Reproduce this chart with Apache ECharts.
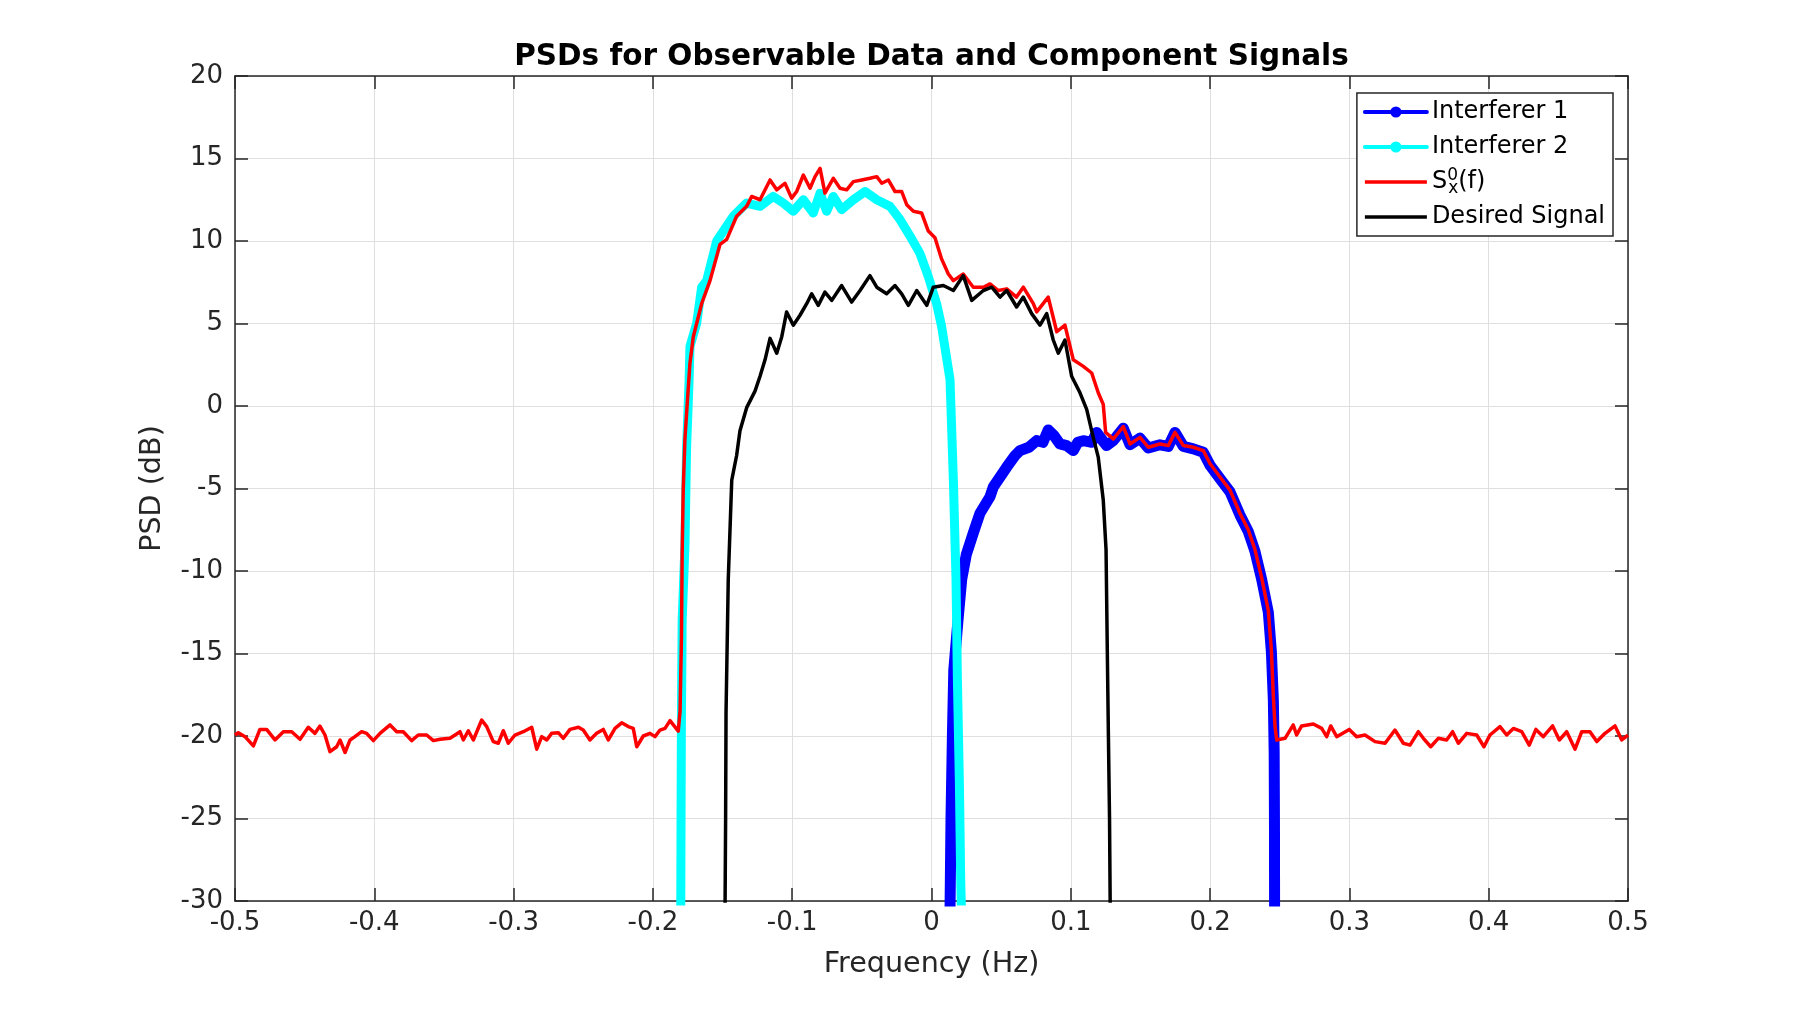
<!DOCTYPE html>
<html>
<head>
<meta charset="utf-8">
<title>PSDs for Observable Data and Component Signals</title>
<script src="https://cdn.jsdelivr.net/npm/echarts@6/dist/echarts.min.js"></script>
<style>
  html, body { margin: 0; padding: 0; background: #fff; }
  #chart { width: 1800px; height: 1013px; }
</style>
</head>
<body>
<div id="chart"></div>
<script>
// values (frequency in Hz, PSD in dB)

// Interferer 1
const int1Freq = [0.0133, 0.0140, 0.0150, 0.0160, 0.0190, 0.0217, 0.0250, 0.0300, 0.0348, 0.0420,
  0.0444, 0.0500, 0.0540, 0.0600, 0.0635, 0.0700, 0.0755, 0.0800, 0.0838, 0.0880,
  0.0922, 0.0970, 0.1018, 0.1050, 0.1090, 0.1150, 0.1186, 0.1220, 0.1257, 0.1305,
  0.1377, 0.1425, 0.1497, 0.1556, 0.1640, 0.1700, 0.1748, 0.1808, 0.1880, 0.1951,
  0.2000, 0.2071, 0.2143, 0.2214, 0.2274, 0.2322, 0.2370, 0.2418, 0.2440, 0.2454,
  0.2460, 0.2462, 0.2463];
const int1Psd = [-30.5, -25, -20, -16, -13, -10.5, -9.0, -7.7, -6.5, -5.5,
  -4.9, -4.2, -3.7, -3.0, -2.7, -2.5, -2.1, -2.2, -1.45, -1.8,
  -2.3, -2.4, -2.7, -2.2, -2.1, -2.2, -1.6, -2.0, -2.4, -2.1,
  -1.35, -2.35, -1.95, -2.55, -2.35, -2.45, -1.6, -2.45, -2.6, -2.8,
  -3.6, -4.4, -5.2, -6.6, -7.6, -8.8, -10.5, -12.5, -14.9, -17.8,
  -21, -25, -30.5];

// Interferer 2
const int2Freq = [-0.1800, -0.1798, -0.1795, -0.1790, -0.1770, -0.1758, -0.1740, -0.1734, -0.1686, -0.1650,
  -0.1614, -0.1542, -0.1530, -0.1423, -0.1327, -0.1231, -0.1136, -0.1064, -0.0992, -0.0920,
  -0.0849, -0.0800, -0.0753, -0.0705, -0.0645, -0.0561, -0.0477, -0.0393, -0.0298, -0.0226,
  -0.0154, -0.0083, -0.0023, 0.0037, 0.0073, 0.0133, 0.0157, 0.0176, 0.0186, 0.0200,
  0.0210, 0.0215];
const int2Psd = [-30.5, -25, -18.6, -13, -8.5, -2.5, 1.6, 3.6, 5.0, 7.2,
  7.6, 10.0, 9.9, 11.5, 12.3, 12.1, 12.7, 12.3, 11.8, 12.5,
  11.7, 12.9, 11.8, 12.7, 11.9, 12.5, 13.0, 12.5, 12.1, 11.3,
  10.3, 9.25, 7.85, 6.2, 4.8, 1.6, -4.5, -10.5, -16.6, -22.7,
  -28.9, -30.5];

// S_x^0(f), observable data
const sxFreq = [-0.5, -0.4976, -0.4928, -0.4868, -0.4821, -0.4773, -0.4713, -0.4653, -0.4593, -0.4533,
  -0.4474, -0.4426, -0.4390, -0.4354, -0.4318, -0.4270, -0.4246, -0.4210, -0.4174, -0.4139,
  -0.4091, -0.4055, -0.4007, -0.3959, -0.3887, -0.3839, -0.3792, -0.3732, -0.3684, -0.3624,
  -0.3576, -0.3528, -0.3457, -0.3409, -0.3385, -0.3361, -0.3325, -0.3289, -0.3229, -0.3193,
  -0.3146, -0.3110, -0.3074, -0.3038, -0.2990, -0.2930, -0.2870, -0.2834, -0.2798, -0.2762,
  -0.2727, -0.2679, -0.2643, -0.2595, -0.2535, -0.2500, -0.2452, -0.2404, -0.2356, -0.2320,
  -0.2272, -0.2224, -0.2177, -0.2141, -0.2116, -0.2069, -0.2021, -0.1985, -0.1949, -0.1913,
  -0.1877, -0.1818, -0.1805, -0.1795, -0.1790, -0.1782, -0.1770, -0.1750, -0.1734, -0.1710,
  -0.1650, -0.1590, -0.1518, -0.1470, -0.1399, -0.1327, -0.1291, -0.1231, -0.1159, -0.1111,
  -0.1052, -0.1004, -0.0968, -0.0920, -0.0872, -0.0836, -0.0800, -0.0765, -0.0705, -0.0657,
  -0.0609, -0.0561, -0.0501, -0.0442, -0.0393, -0.0357, -0.0310, -0.0262, -0.0214, -0.0178,
  -0.0130, -0.0071, -0.0023, 0.0025, 0.0073, 0.0121, 0.0157, 0.0228, 0.0300, 0.0372,
  0.0420, 0.0480, 0.0540, 0.0610, 0.0659, 0.0731, 0.0755, 0.0838, 0.0899, 0.0958,
  0.1018, 0.1090, 0.1150, 0.1197, 0.1233, 0.1250, 0.1305, 0.1377, 0.1425, 0.1497,
  0.1556, 0.1640, 0.1700, 0.1748, 0.1808, 0.1880, 0.1951, 0.2000, 0.2071, 0.2143,
  0.2214, 0.2274, 0.2322, 0.2370, 0.2418, 0.2440, 0.2454, 0.2466, 0.2478, 0.2538,
  0.2597, 0.2621, 0.2657, 0.2741, 0.2801, 0.2837, 0.2866, 0.2909, 0.2999, 0.3052,
  0.3112, 0.3184, 0.3256, 0.3327, 0.3387, 0.3435, 0.3495, 0.3531, 0.3584, 0.3638,
  0.3698, 0.3741, 0.3782, 0.3842, 0.3914, 0.3966, 0.4009, 0.4081, 0.4129, 0.4177,
  0.4237, 0.4291, 0.4339, 0.4392, 0.4459, 0.4507, 0.4560, 0.4620, 0.4668, 0.4727,
  0.4776, 0.4835, 0.4907, 0.4955, 0.5];
const sxPsd = [-19.94, -19.8, -20.04, -20.6, -19.6, -19.6, -20.24, -19.74, -19.74, -20.2,
  -19.47, -19.84, -19.4, -19.94, -20.95, -20.65, -20.24, -21.0, -20.24, -20.04,
  -19.74, -19.84, -20.28, -19.84, -19.33, -19.74, -19.74, -20.28, -19.94, -19.94,
  -20.28, -20.2, -20.14, -19.88, -19.74, -20.24, -19.68, -20.24, -19.03, -19.43,
  -20.34, -20.44, -19.68, -20.44, -19.94, -19.74, -19.47, -20.8, -20.04, -20.24,
  -19.84, -19.8, -20.14, -19.6, -19.47, -19.64, -20.24, -19.84, -19.6, -20.24,
  -19.54, -19.2, -19.43, -19.54, -20.65, -20.0, -19.84, -20.04, -19.64, -19.54,
  -19.07, -19.7, -18.5, -14.0, -9.0, -5.0, -2.0, 0.6, 2.6, 4.2,
  6.2, 7.6, 9.8, 10.1, 11.5, 12.1, 12.7, 12.5, 13.7, 13.1,
  13.5, 12.6, 13.0, 14.0, 13.2, 13.9, 14.4, 12.9, 13.8, 13.2,
  13.1, 13.6, 13.7, 13.8, 13.9, 13.5, 13.7, 13.0, 13.0, 12.2,
  11.8, 11.7, 10.6, 10.2, 8.9, 8.0, 7.6, 8.0, 7.2, 7.2,
  7.4, 7.0, 7.1, 6.6, 7.2, 6.2, 5.7, 6.6, 4.5, 4.9,
  2.8, 2.4, 2.0, 0.8, 0.1, -1.6, -2.0, -1.25, -2.3, -1.9,
  -2.5, -2.3, -2.4, -1.6, -2.4, -2.5, -2.7, -3.5, -4.3, -5.1,
  -6.5, -7.5, -8.7, -10.4, -12.4, -14.8, -17.6, -19.4, -20.24, -20.14,
  -19.33, -19.94, -19.39, -19.27, -19.54, -20.04, -19.39, -20.04, -19.6, -20.04,
  -19.94, -20.34, -20.44, -19.64, -20.44, -20.55, -19.74, -20.14, -20.65, -20.14,
  -20.24, -19.74, -20.44, -19.84, -19.94, -20.65, -19.94, -19.43, -19.94, -19.54,
  -19.74, -20.55, -19.6, -20.04, -19.39, -20.24, -19.74, -20.8, -19.74, -19.74,
  -20.34, -19.84, -19.39, -20.24, -19.94];

// Desired signal
const desiredFreq = [-0.1482, -0.1478, -0.1475, -0.1459, -0.1434, -0.1399, -0.1375, -0.1327, -0.1267, -0.1231,
  -0.1195, -0.1159, -0.1111, -0.1075, -0.1040, -0.0992, -0.0944, -0.0896, -0.0860, -0.0813,
  -0.0765, -0.0716, -0.0645, -0.0573, -0.0513, -0.0442, -0.0393, -0.0322, -0.0262, -0.0214,
  -0.0166, -0.0106, -0.0034, 0.0013, 0.0085, 0.0157, 0.0228, 0.0289, 0.0372, 0.0432,
  0.0492, 0.0540, 0.0611, 0.0659, 0.0719, 0.0779, 0.0827, 0.0874, 0.0910, 0.0958,
  0.1006, 0.1066, 0.1114, 0.1161, 0.1197, 0.1233, 0.1253, 0.1262, 0.1270, 0.1278,
  0.1283];
const desiredPsd = [-30.5, -25, -18.6, -10.5, -4.5, -3.0, -1.5, -0.1, 0.9, 1.8,
  2.8, 4.1, 3.2, 4.2, 5.7, 4.9, 5.5, 6.2, 6.8, 6.1,
  6.9, 6.4, 7.3, 6.3, 7.0, 7.9, 7.2, 6.8, 7.3, 6.8,
  6.1, 7.0, 6.1, 7.2, 7.3, 7.0, 7.9, 6.4, 7.0, 7.2,
  6.6, 7.0, 6.0, 6.6, 5.6, 4.9, 5.6, 4.0, 3.2, 4.0,
  1.8, 0.8, -0.2, -1.9, -3.1, -5.7, -8.7, -14.8, -20, -25,
  -30.5];

const zip = (xs, ys) => xs.map((x, i) => [x, ys[i]]);

const chart = echarts.init(document.getElementById('chart'));

const FONT = 'DejaVu Sans';
const INK = '#262626';

const option = {
  backgroundColor: '#fff',
  animation: false,
  textStyle: { fontFamily: FONT, color: INK },
  title: {
    text: 'PSDs for Observable Data and Component Signals',
    left: 926.5,
    textAlign: 'center',
    top: 37,
    textStyle: { fontFamily: FONT, fontSize: 29.5, fontWeight: 'bold', color: '#000' }
  },
  grid: { left: 235, right: 172, top: 76, bottom: 112, containLabel: false },
  legend: {
    orient: 'vertical',
    right: 187,
    top: 93,
    align: 'left',
    padding: [4, 8, 4, 6],
    itemWidth: 62,
    itemHeight: 14,
    itemGap: 5,
    backgroundColor: '#fff',
    borderColor: INK,
    borderWidth: 1.5,
    borderRadius: 0,
    textStyle: {
      fontFamily: FONT,
      fontSize: 24,
      lineHeight: 30,
      color: '#000',
      rich: {
        s: { fontFamily: FONT, fontSize: 24, color: '#000' },
        sup: { fontFamily: FONT, fontSize: 17, color: '#000', verticalAlign: 'top', padding: [0, 0, 16, 0], width: 1 },
        sub: { fontFamily: FONT, fontSize: 17, color: '#000', verticalAlign: 'bottom', padding: [16, 0, 0, 0] }
      }
    },
    formatter: name => name === 'Sx0'
      ? '{s|S}{sup|0}{sub|x}{s|(f)}'
      : name,
    data: [
      { name: 'Interferer 1', lineStyle: { width: 4 } },
      { name: 'Interferer 2', lineStyle: { width: 4 } },
      { name: 'Sx0', lineStyle: { width: 3.5 }, itemStyle: { opacity: 0 } },
      { name: 'Desired Signal', lineStyle: { width: 3.5 }, itemStyle: { opacity: 0 } }
    ]
  },
  xAxis: [
    {
      type: 'value',
      min: -0.5,
      max: 0.5,
      interval: 0.1,
      name: 'Frequency (Hz)',
      nameLocation: 'middle',
      nameGap: 49,
      nameTextStyle: { fontFamily: FONT, fontSize: 28.6, color: INK },
      axisLine: { show: true, onZero: false, lineStyle: { color: INK, width: 1.5 } },
      axisTick: { show: true, inside: true, length: 13, lineStyle: { color: INK, width: 1.5 } },
      axisLabel: {
        fontFamily: FONT, fontSize: 26, color: INK, margin: 9,
        formatter: v => String(+v.toFixed(1))
      },
      splitLine: { show: true, lineStyle: { color: '#dfdfdf', width: 1 } }
    },
    {
      type: 'value',
      position: 'top',
      min: -0.5,
      max: 0.5,
      interval: 0.1,
      axisLine: { show: true, onZero: false, lineStyle: { color: INK, width: 1.5 } },
      axisTick: { show: true, inside: true, length: 13, lineStyle: { color: INK, width: 1.5 } },
      axisLabel: { show: false },
      splitLine: { show: false }
    }
  ],
  yAxis: [
    {
      type: 'value',
      min: -30,
      max: 20,
      interval: 5,
      name: 'PSD (dB)',
      nameLocation: 'middle',
      nameGap: 68,
      nameTextStyle: { fontFamily: FONT, fontSize: 28.6, color: INK },
      axisLine: { show: true, onZero: false, lineStyle: { color: INK, width: 1.5 } },
      axisTick: { show: true, inside: true, length: 13, lineStyle: { color: INK, width: 1.5 } },
      axisLabel: { fontFamily: FONT, fontSize: 26, color: INK, margin: 12 },
      splitLine: { show: true, lineStyle: { color: '#dfdfdf', width: 1 } }
    },
    {
      type: 'value',
      position: 'right',
      min: -30,
      max: 20,
      interval: 5,
      axisLine: { show: true, onZero: false, lineStyle: { color: INK, width: 1.5 } },
      axisTick: { show: true, inside: true, length: 13, lineStyle: { color: INK, width: 1.5 } },
      axisLabel: { show: false },
      splitLine: { show: false }
    }
  ],
  series: [
    {
      name: 'Interferer 1',
      type: 'line',
      xAxisIndex: 0,
      yAxisIndex: 0,
      symbol: 'circle',
      symbolSize: 12,
      showSymbol: false,
      color: '#0000ff',
      lineStyle: { color: '#0000ff', width: 11, join: 'round', cap: 'round' },
      data: zip(int1Freq, int1Psd)
    },
    {
      name: 'Interferer 2',
      type: 'line',
      xAxisIndex: 0,
      yAxisIndex: 0,
      symbol: 'circle',
      symbolSize: 9,
      showSymbol: false,
      color: '#00ffff',
      lineStyle: { color: '#00ffff', width: 9, join: 'round', cap: 'round' },
      data: zip(int2Freq, int2Psd)
    },
    {
      name: 'Sx0',
      type: 'line',
      xAxisIndex: 0,
      yAxisIndex: 0,
      symbol: 'none',
      color: '#ff0000',
      lineStyle: { color: '#ff0000', width: 3.5, join: 'round' },
      data: zip(sxFreq, sxPsd)
    },
    {
      name: 'Desired Signal',
      type: 'line',
      xAxisIndex: 0,
      yAxisIndex: 0,
      symbol: 'none',
      color: '#000000',
      lineStyle: { color: '#000000', width: 3.5, join: 'round' },
      data: zip(desiredFreq, desiredPsd)
    }
  ]
};

chart.setOption(option);

window.addEventListener('resize', () => chart.resize());
</script>
</body>
</html>
